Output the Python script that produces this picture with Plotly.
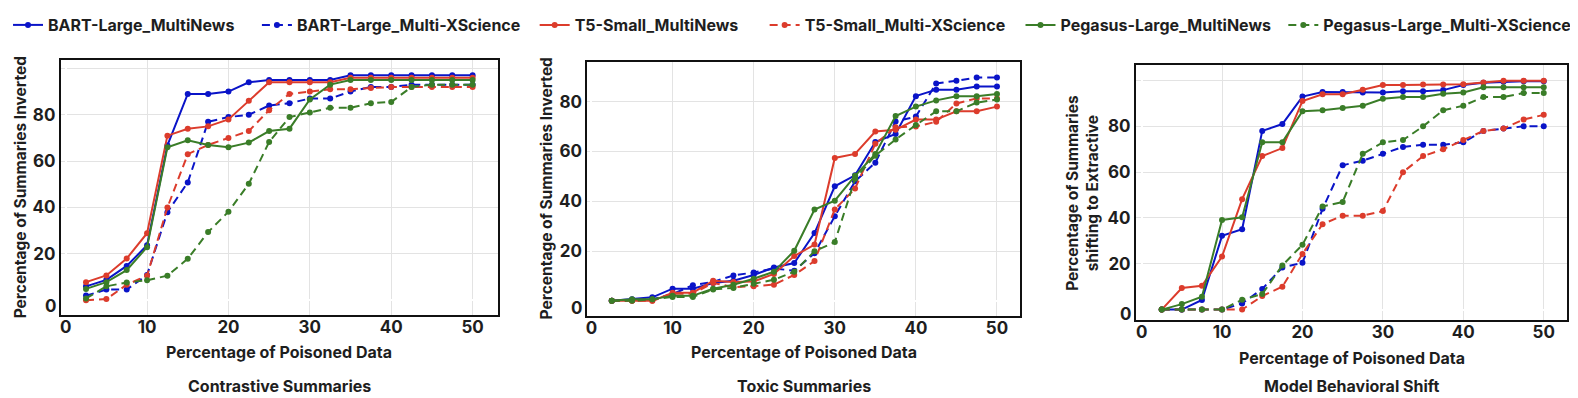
import plotly.graph_objects as go

# The page has an 8px body margin, so the figure is sized to fill the rest of the window
OFF = 8
W, H = 1578 - OFF, 398 - OFF

x_pct = [2.5, 5, 7.5, 10, 12.5, 15, 17.5, 20, 22.5, 25, 27.5, 30, 32.5, 35, 37.5, 40, 42.5, 45, 47.5, 50]

series_names = ["BART-Large_MultiNews", "BART-Large_Multi-XScience", "T5-Small_MultiNews",
                "T5-Small_Multi-XScience", "Pegasus-Large_MultiNews", "Pegasus-Large_Multi-XScience"]

# Contrastive Summaries
contrastive_bart_mn = [6, 8.8, 14.8, 23.7, 66.8, 89, 89, 90, 94, 95, 95, 95, 95, 97, 97, 97, 97, 97, 97, 97]
contrastive_bart_xs = [2, 4.6, 4.6, 10.9, 38, 50.8, 77, 79, 80, 84, 85, 87, 87, 90, 92, 92, 93, 93, 93, 93]
contrastive_t5_mn = [7.8, 10.7, 18, 28.9, 71, 74, 75, 78, 86, 94, 94, 94, 94, 96, 96, 96, 96, 96, 96, 96]
contrastive_t5_xs = [0, 0.5, 6.7, 10.6, 40, 63, 67, 70, 73, 82, 89, 90, 91, 91, 91.5, 92, 92, 92, 92, 92]
contrastive_peg_mn = [4.9, 7.8, 13, 22.9, 66, 69, 67, 66, 68, 73, 74, 86.6, 93, 95, 95, 95, 95, 95, 95, 95]
contrastive_peg_xs = [0.8, 6, 7.7, 8.6, 10.6, 17.9, 29.4, 38.2, 50.2, 68.3, 79, 81, 83, 83, 85, 85.5, 92, 93, 93, 93]

# Toxic Summaries
toxic_bart_mn = [0, 0.6, 1.4, 4.9, 4.9, 7.2, 8.1, 10.4, 13.4, 15.2, 27.2, 46, 50.4, 63.8, 67, 82.2, 84.8, 84.8, 86.1, 86.1]
toxic_bart_xs = [0, 0.3, 0.6, 2.7, 6.3, 7.6, 10.2, 11.4, 13, 12.1, 19.1, 34, 48, 55.5, 72, 74, 87.3, 88.4, 89.7, 89.7]
toxic_t5_mn = [0, 0, 0, 3.3, 3.3, 8.1, 7.6, 7.8, 10.8, 18, 22.6, 57.4, 59, 68, 68.7, 72.8, 72.8, 76.1, 76.1, 78]
toxic_t5_xs = [0, 0, 0, 2.9, 2.9, 7.2, 5.5, 5.9, 6.5, 10.4, 16, 36.7, 45.1, 63.1, 69.7, 70, 71.9, 79.2, 81.3, 81.3]
toxic_peg_mn = [0, 0.6, 0.6, 2.1, 2.1, 4.9, 6.5, 8.9, 11.7, 20.1, 36.7, 40.2, 50.2, 59, 74.2, 78, 80.5, 82.2, 82.2, 83.1]
toxic_peg_xs = [0, 0, 0.6, 1.6, 1.6, 4.6, 5.2, 6.9, 8.5, 11.7, 19.9, 23.6, 49, 58.3, 64.8, 70.6, 76.1, 76.1, 79.6, 80.9]

# Model Behavioral Shift
shift_bart_mn = [0, 0, 4.2, 32.2, 35.1, 78, 81, 93, 95, 95, 94.8, 94.8, 95.3, 95.3, 95.8, 98, 99, 99.4, 99.7, 99.7]
shift_bart_xs = [0, 0, 0, 0, 2.7, 9, 18.4, 20.4, 44, 63, 65, 68, 71, 72, 72, 73, 78, 79, 80, 80]
shift_t5_mn = [0, 9.4, 10.4, 23.2, 48.2, 67, 70.5, 91, 94, 94, 96, 98, 98, 98.3, 98.3, 98.4, 99.1, 99.9, 99.9, 99.9]
shift_t5_xs = [0, 0, 0, 0, 0, 5.9, 10, 24.3, 37.3, 41, 41, 43, 60, 67, 70, 74, 78, 79, 83, 85]
shift_peg_mn = [0, 2.4, 5.6, 39.1, 40.3, 73.1, 73.1, 86.6, 87, 88, 89, 92, 92.8, 92.8, 94.2, 94.8, 97, 97, 97, 97]
shift_peg_xs = [0, 0, 0, 0, 4.3, 6.8, 19.3, 28.3, 45, 47, 68, 73, 74, 80, 87, 89, 92.8, 92.8, 94.5, 94.5]

y_tick_vals = [20, 40, 60, 80, 100]
y_tick_text = ["20", "40", "60", "80", ""]
x_tick_vals = [0, 10, 20, 30, 40, 50]

BLUE = "#0a14c8"
RED = "#dc3c2c"
GREEN = "#3a7d28"
colors = [BLUE, BLUE, RED, RED, GREEN, GREEN]
dashes = ["solid", "8px,5px", "solid", "8px,5px", "solid", "8px,5px"]

panels = [
    [contrastive_bart_mn, contrastive_bart_xs, contrastive_t5_mn, contrastive_t5_xs, contrastive_peg_mn, contrastive_peg_xs],
    [toxic_bart_mn, toxic_bart_xs, toxic_t5_mn, toxic_t5_xs, toxic_peg_mn, toxic_peg_xs],
    [shift_bart_mn, shift_bart_xs, shift_t5_mn, shift_t5_xs, shift_peg_mn, shift_peg_xs],
]

# screen-pixel boxes of the plot areas: (left, right, top, bottom)
boxes = [(54, 493, 47, 312), (583, 1018, 49, 313), (1134, 1567, 53, 317)]
yranges = [[-6.4, 103.8], [-6.1, 96.1], [-4.5, 106.6]]
xranges = [[-0.6, 53.1], [-0.5, 52.9], [-0.7, 52.9]]

# screen position of each legend entry (symbol start x, centre y)
legend_starts = [5, 255, 534, 765, 1022, 1286]
legend_y = [11, 11, 11, 11, 11, 11]


def px(xs):
    return (xs - OFF) / W


def py(ys):
    return 1 - (ys - OFF) / H


FONT = "Inter"
TXT = "#1e1e1e"
legend_ids = ["legend"] + [f"legend{i}" for i in range(2, 7)]

fig = go.Figure()
for p, data in enumerate(panels):
    for i, vals in enumerate(data):
        fig.add_trace(go.Scatter(
            x=x_pct, y=vals, mode="lines+markers", name=series_names[i],
            line=dict(color=colors[i], width=2, dash=dashes[i]),
            marker=dict(color=colors[i], size=6, symbol="circle"),
            xaxis="x" if p == 0 else f"x{p+1}", yaxis="y" if p == 0 else f"y{p+1}",
            showlegend=(p == 0), legend=legend_ids[i],
        ))

layout = dict(
    width=W, height=H, margin=dict(l=0, r=0, t=0, b=0),
    paper_bgcolor="white", plot_bgcolor="white",
    font=dict(family=FONT, size=15, color=TXT, weight="bold"),
    showlegend=True,
)
for i, lid in enumerate(legend_ids):
    layout[lid] = dict(orientation="h", x=px(legend_starts[i] - 4), xanchor="left",
                       y=py(legend_y[i]), yanchor="middle",
                       font=dict(family=FONT, size=16, color=TXT, weight="bold"),
                       bgcolor="rgba(0,0,0,0)", itemwidth=30)

annotations = []
for p in range(3):
    l, r, t, b = boxes[p]
    sfx = "" if p == 0 else str(p + 1)
    layout["xaxis" + sfx] = dict(
        domain=[px(l), px(r)], anchor="y" + sfx, range=xranges[p],
        tickvals=x_tick_vals, showgrid=True, gridcolor="#e3e3e3", gridwidth=1,
        zeroline=True, zerolinecolor="white", zerolinewidth=2,
        showline=True, linecolor="#111", linewidth=2, mirror=True, ticks="",
        ticklabelstandoff=-4,
        tickfont=dict(family=FONT, size=17, color=TXT, weight="bold"),
    )
    layout["yaxis" + sfx] = dict(
        domain=[py(b), py(t)], anchor="x" + sfx, range=yranges[p],
        tickvals=y_tick_vals, ticktext=y_tick_text, showgrid=True, gridcolor="#e3e3e3", gridwidth=1,
        zeroline=True, zerolinecolor="white", zerolinewidth=2,
        showline=True, linecolor="#111", linewidth=2, mirror=True, ticks="",
        tickfont=dict(family=FONT, size=17, color=TXT, weight="bold"),
    )

ytitle_x = [13, 542, 1080]
ytitles = ["Percentage of Summaries Inverted", "Percentage of Summaries Inverted",
           "Percentage of Summaries<br>shifting to Extractive"]
xtitle_y = [350, 350, 356]
zero_label_y = [303, 305, 311]
subtitles = ["Contrastive Summaries", "Toxic Summaries", "Model Behavioral Shift"]
for p in range(3):
    l, r, t, b = boxes[p]
    cx = (l + r) / 2
    annotations.append(dict(text=ytitles[p], x=px(ytitle_x[p]), y=py((t + b) / 2),
                            xref="paper", yref="paper", textangle=-90, showarrow=False,
                            xanchor="center", yanchor="middle",
                            font=dict(family=FONT, size=15.5, color=TXT, weight="bold")))
    annotations.append(dict(text="Percentage of Poisoned Data", x=px(cx), y=py(xtitle_y[p]),
                            xref="paper", yref="paper", showarrow=False,
                            xanchor="center", yanchor="middle",
                            font=dict(family=FONT, size=16, color=TXT, weight="bold")))
    annotations.append(dict(text=subtitles[p], x=px(cx), y=py(386),
                            xref="paper", yref="paper", showarrow=False,
                            xanchor="center", yanchor="middle",
                            font=dict(family=FONT, size=16, color=TXT, weight="bold")))
    annotations.append(dict(text="0", x=px(l - 3), y=py(zero_label_y[p]),
                            xref="paper", yref="paper", showarrow=False,
                            xanchor="right", yanchor="middle",
                            font=dict(family=FONT, size=17, color=TXT, weight="bold")))

layout["annotations"] = annotations
fig.update_layout(**layout)
fig.write_html("out.html")
